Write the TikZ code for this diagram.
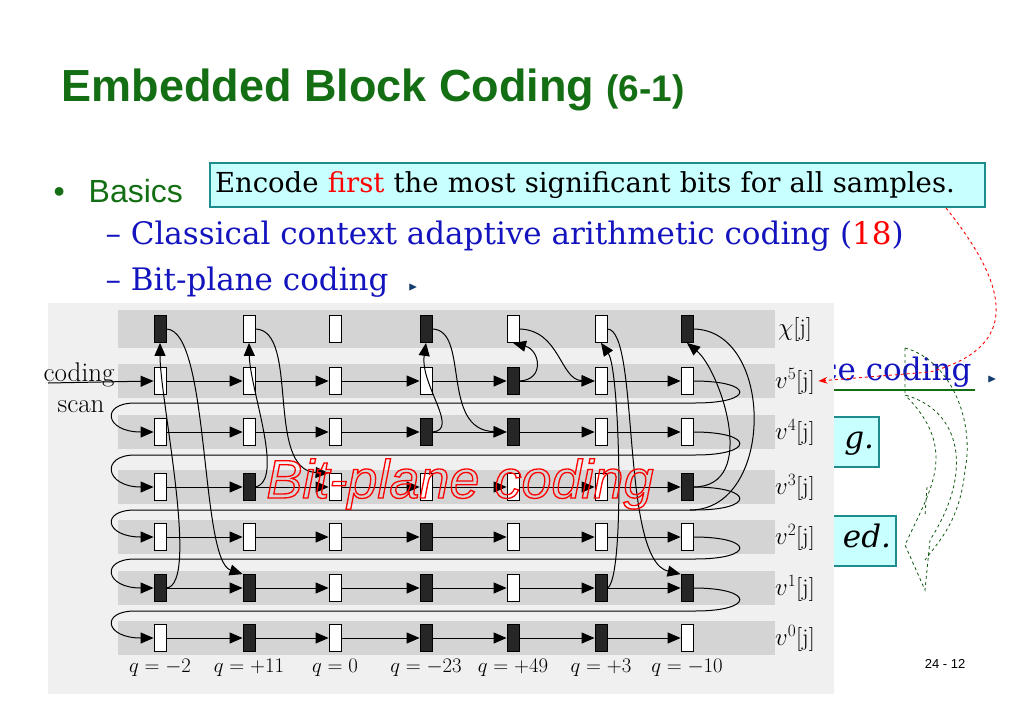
\documentclass[tikz,border=0pt]{standalone}
\usepackage{amssymb}
\usepackage{fontspec}
\setsansfont{Liberation Sans}
\newfontfamily\bk{DejaVu Serif}
\usetikzlibrary{arrows.meta}
\definecolor{tgreen}{RGB}{20,110,20}
\definecolor{tblue}{RGB}{20,20,190}
\definecolor{cyanbox}{RGB}{200,255,255}
\definecolor{tealb}{RGB}{30,140,140}
\definecolor{navy}{RGB}{20,60,110}
\begin{document}
\begin{tikzpicture}[x=1pt,y=-1pt,
  bit/.style={draw=black,line width=0.8pt,minimum width=12pt,minimum height=27pt,inner sep=0pt},
  one/.style={bit,fill=black!85},
  zero/.style={bit,fill=white},
  arr/.style={line width=1pt,-{Triangle[length=13pt,width=11pt]}},
  ln/.style={line width=1pt},
  tbox/.style={draw=tealb,line width=2pt,fill=cyanbox,inner sep=5pt},
  lbl/.style={font=\fontsize{24}{26}\selectfont}]
\useasboundingbox (0,0) rectangle (1024,709);
% slide text
\node[anchor=west,text=tgreen,font=\sffamily\bfseries\fontsize{45}{50}\selectfont] (title) at (58,90) {Embedded Block Coding {\fontsize{37}{40}\selectfont(6-1)}};
\node[anchor=west,text=tgreen,font=\sffamily\fontsize{32}{34}\selectfont] (basics) at (50,191) {\textbullet\hspace{24pt}Basics};
\node[anchor=west,text=tblue,font=\bk\fontsize{31}{34}\selectfont] (l1) at (102,236) {– Classical context adaptive arithmetic coding ({\color{red}18})};
\node[anchor=west,text=tblue,font=\bk\fontsize{31}{34}\selectfont] (l2) at (102,282) {– Bit-plane coding \hspace{10pt}{\color{navy}\fontsize{12}{12}\selectfont$\blacktriangleright$}};
\node[anchor=east,text=tblue,font=\bk\fontsize{31}{34}\selectfont] (l3) at (975,372) {ce coding};
\draw[tgreen,line width=1.4pt] (820,390) -- (975,390);
\node[text=navy,font=\fontsize{12}{12}\selectfont] (tri) at (992,379) {$\blacktriangleright$};
\node[tbox,anchor=east,minimum height=50pt,text width=110pt,align=right,font=\bk\itshape\fontsize{31}{34}\selectfont] (bx1) at (880,442) {\strut g.};
\node[tbox,anchor=east,minimum height=50pt,text width=110pt,align=right,font=\bk\itshape\fontsize{31}{34}\selectfont] (bx2) at (897,541) {\strut ed.};
\node[tbox,anchor=west,font=\bk\fontsize{27.5}{30}\selectfont,minimum height=44pt,text width=765pt,align=left] (enc) at (209,185) {Encode {\color{red}first} the most significant bits for all samples.};
\node[font=\sffamily\fontsize{13}{15}\selectfont] (pg) at (945,664) {24 - 12};
% picture panel
\fill[black!6] (48,303) rectangle (834,694);
\foreach \y/\h in {329/38,381/34,432/34,487/34,537/34,588/34,638/34}
  \fill[black!17] (118,\y-\h/2) rectangle (775,\y+\h/2);
% bits
\def\rowy{{329,381,432,487,537,588,638}}
\def\colx{{0,160,249,335,426,513,601,687}}
\foreach \r/\bits in {0/{1,0,0,1,0,0,1},1/{0,0,0,0,1,0,0},2/{0,0,0,1,1,0,0},3/{0,1,0,0,0,0,1},4/{0,0,0,1,0,0,0},5/{1,1,0,1,0,1,1},6/{0,1,0,1,1,1,0}}{
  \foreach \b [count=\c] in \bits {
    \pgfmathsetmacro\xx{\colx[\c]}\pgfmathsetmacro\yy{\rowy[\r]}
    \ifnum\b=1 \node[one] (b-\r-\c) at (\xx,\yy) {};
    \else \node[zero] (b-\r-\c) at (\xx,\yy) {};\fi
  }
}
% row labels
\foreach \r/\t in {0/{$\chi$[j]},1/{$v^5$[j]},2/{$v^4$[j]},3/{$v^3$[j]},4/{$v^2$[j]},5/{$v^1$[j]},6/{$v^0$[j]}}{
  \pgfmathsetmacro\yy{\rowy[\r]}
  \node[lbl] (rl-\r) at (795,\yy) {\t};
}
\foreach \c/\t in {1/-2,2/+11,3/0,4/-23,5/+49,6/+3,7/-10}{
  \pgfmathsetmacro\xx{\colx[\c]}
  \node[lbl,font=\fontsize{21}{24}\selectfont] (q-\c) at (\xx,668) {$q=\t$};
}
\node[lbl,anchor=east,font=\fontsize{27}{30}\selectfont] (cod) at (118,375) {coding};
\node[lbl,anchor=east,font=\fontsize{27}{30}\selectfont] (scan) at (108,407) {scan};
\coordinate (start) at (48,383);
% horizontal arrows
\draw[arr] (start) -- (b-1-1.west);
\foreach \r in {1,...,6}{
  \foreach \c [remember=\c as \p (initially 1)] in {2,...,7}{
    \draw[arr] (b-\r-\p.east) -- (b-\r-\c.west);
  }
}
% return loops
\foreach \r/\n/\ym in {1/2/403,2/3/455,3/4/510,4/5/559,5/6/611}{
  \pgfmathsetmacro\ya{\rowy[\r]}\pgfmathsetmacro\yb{\rowy[\n]}
  \draw[arr] (b-\r-7.east) .. controls (755,\ya) and (755,\ym) .. (695,\ym) -- (135,\ym) .. controls (100,\ym) and (105,\yb) .. (b-\n-1.west);
}
% significance -> sign arrows
\draw[arr] (b-5-1.east) .. controls (200,585) and (160,400) .. (b-0-1.south);
\draw[arr] (b-0-1.east) .. controls (210,330) and (200,560) .. (b-5-2.north west);
\draw[arr] (b-3-2.east) .. controls (285,480) and (250,390) .. (b-0-2.south);
\draw[arr] (b-0-2.east) .. controls (300,330) and (265,470) .. (b-3-3.north west);
\draw[arr] (b-2-4.east) .. controls (460,430) and (420,385) .. (b-0-4.south);
\draw[arr] (b-0-4.east) .. controls (470,330) and (440,430) .. (b-2-5.west);
\draw[arr] (b-1-5.east) .. controls (545,380) and (540,350) .. (b-0-5.south);
\draw[arr] (b-0-5.east) .. controls (560,330) and (560,380) .. (b-1-6.west);
\draw[arr] (b-5-6.east) .. controls (625,580) and (620,370) .. (b-0-6.south);
\draw[arr] (b-0-6.east) .. controls (640,330) and (620,560) .. (b-5-7.north west);
\draw[arr] (b-3-7.east) .. controls (760,487) and (720,370) .. (b-0-7.south);
\coordinate (m7) at (690,510);
\draw[ln] (b-0-7.east) .. controls (775,330) and (775,510) .. (m7);
% overlay text
\node[text=red,font=\sffamily\itshape\fontsize{54}{58}\selectfont] (bpc) at (460,484) {\special{pdf:literal direct 1 Tr 1.3 w}Bit-plane coding\special{pdf:literal direct 0 Tr}};
% red dashed arrow
\draw[red,dashed,line width=0.9pt,-{Stealth[length=9pt]}] (enc.south east) ++(-40,0) .. controls (1020,300) and (1010,350) .. (930,372) -- (rl-1.east);
% green dashed curl
\draw[tgreen!80!black,dashed,line width=0.8pt] (905,348) -- (905,395) .. controls (960,410) and (975,470) .. (930,540) -- (925,590) -- (905,545) .. controls (930,490) and (960,450) .. (905,395);
\draw[tgreen!80!black,dashed,line width=0.8pt] (905,348) .. controls (950,360) and (975,420) .. (965,470) .. controls (960,520) and (940,540) .. (925,560);
\draw[tgreen!80!black,dashed,line width=0.8pt] (927,487) -- (925,515);
\end{tikzpicture}
\end{document}
